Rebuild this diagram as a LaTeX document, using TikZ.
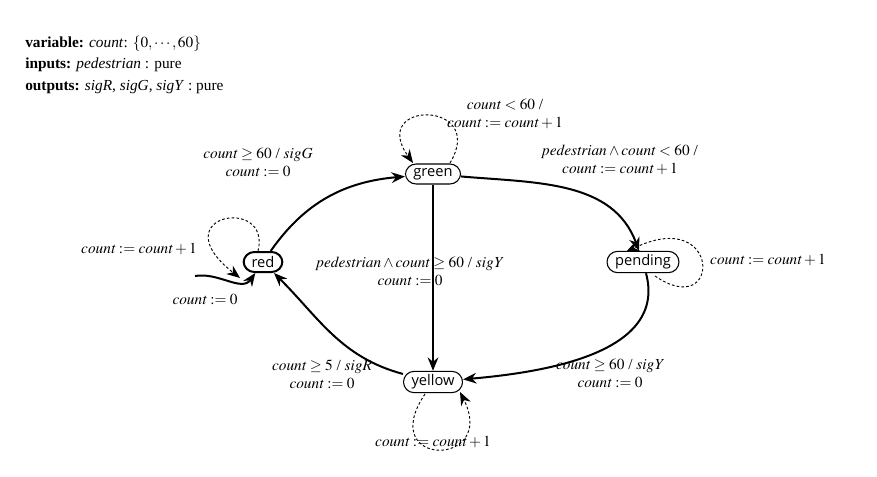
\documentclass[tikz,border=0pt]{standalone}
\usepackage{amssymb}
\usepackage{mathptmx}
\usepackage[no-math]{fontspec}
\setmainfont{Liberation Serif}
\newfontfamily\sansf{Open Sans}
\usetikzlibrary{arrows.meta}
\begin{document}
\begin{tikzpicture}[x=0.75pt,y=-0.75pt,
  st/.style={draw,rounded corners=8pt,line width=0.8pt,minimum height=15pt,inner xsep=6pt,inner ysep=2.5pt,font=\sansf\fontsize{11}{13}\selectfont},
  tr/.style={-{Stealth[length=10pt,width=8pt]},line width=1.5pt},
  lp/.style={dash pattern=on 2pt off 1.6pt,line width=0.7pt,-{Stealth[length=10pt,width=8pt]}},
  lab/.style={align=center,font=\fontsize{11.5}{13.5}\selectfont,inner sep=1pt}]
\useasboundingbox (0,0) rectangle (877,477);
\node[anchor=north west,align=left,font=\fontsize{11.5}{16}\selectfont,inner sep=0pt] (hdr) at (25,36)
 {\textbf{variable:} \emph{count}: $\{0,\cdots,60\}$\\
  \textbf{inputs:} \emph{pedestrian} : pure\\
  \textbf{outputs:} \emph{sigR}, \emph{sigG}, \emph{sigY} : pure};
\node[st] (green) at (433,174) {green};
\node[st,line width=1.5pt] (red) at (263,262) {red};
\node[st] (pending) at (643,262) {pending};
\node[st] (yellow) at (433,382) {yellow};
\coordinate (init) at (195,276);

\draw[tr] (init) to[out=10,in=235] (red);
\draw[tr] (red) to[out=55,in=185] (green);
\draw[tr] (green) to[out=-5,in=110] (pending);
\draw[tr] (pending) to[out=-75,in=5] (yellow);
\draw[tr] (yellow) to[out=165,in=-45] (red);
\draw[tr] (green) -- (yellow);

\coordinate (ra) at (258,251); \coordinate (rb) at (240,278);
\draw[lp] (ra) .. controls (272,195) and (160,215) .. (rb);
\coordinate (ga) at (450,163); \coordinate (gb) at (413,163);
\draw[lp] (ga) .. controls (488,100) and (368,100) .. (gb);
\coordinate (pa) at (655,276); \coordinate (pb) at (626,252);
\draw[lp] (pa) .. controls (722,322) and (722,205) .. (pb);
\coordinate (ya) at (425,394); \coordinate (yb) at (460,392);
\draw[lp] (ya) .. controls (375,468) and (498,468) .. (yb);

\node[lab] (l1) at (258,162) {$\mathit{count}\geq 60$ / $\mathit{sigG}$\\$\mathit{count}:=0$};
\node[lab] (l2) at (505,114) {$\mathit{count}<60$ /\\$\mathit{count}:=\mathit{count}+1$};
\node[lab] (l3) at (620,160) {$\mathit{pedestrian}\wedge\mathit{count}<60$ /\\$\mathit{count}:=\mathit{count}+1$};
\node[lab] (l4) at (139,249) {$\mathit{count}:=\mathit{count}+1$};
\node[lab] (l5) at (205,299) {$\mathit{count}:=0$};
\node[lab] (l6) at (410,271) {$\mathit{pedestrian}\wedge\mathit{count}\geq 60$ / $\mathit{sigY}$\\$\mathit{count}:=0$};
\node[lab] (l7) at (768,260) {$\mathit{count}:=\mathit{count}+1$};
\node[lab] (l8) at (610,373) {$\mathit{count}\geq 60$ / $\mathit{sigY}$\\$\mathit{count}:=0$};
\node[lab] (l9) at (322,374) {$\mathit{count}\geq 5$ / $\mathit{sigR}$\\$\mathit{count}:=0$};
\node[lab] (l10) at (433,442) {$\mathit{count}:=\mathit{count}+1$};
\end{tikzpicture}
\end{document}
